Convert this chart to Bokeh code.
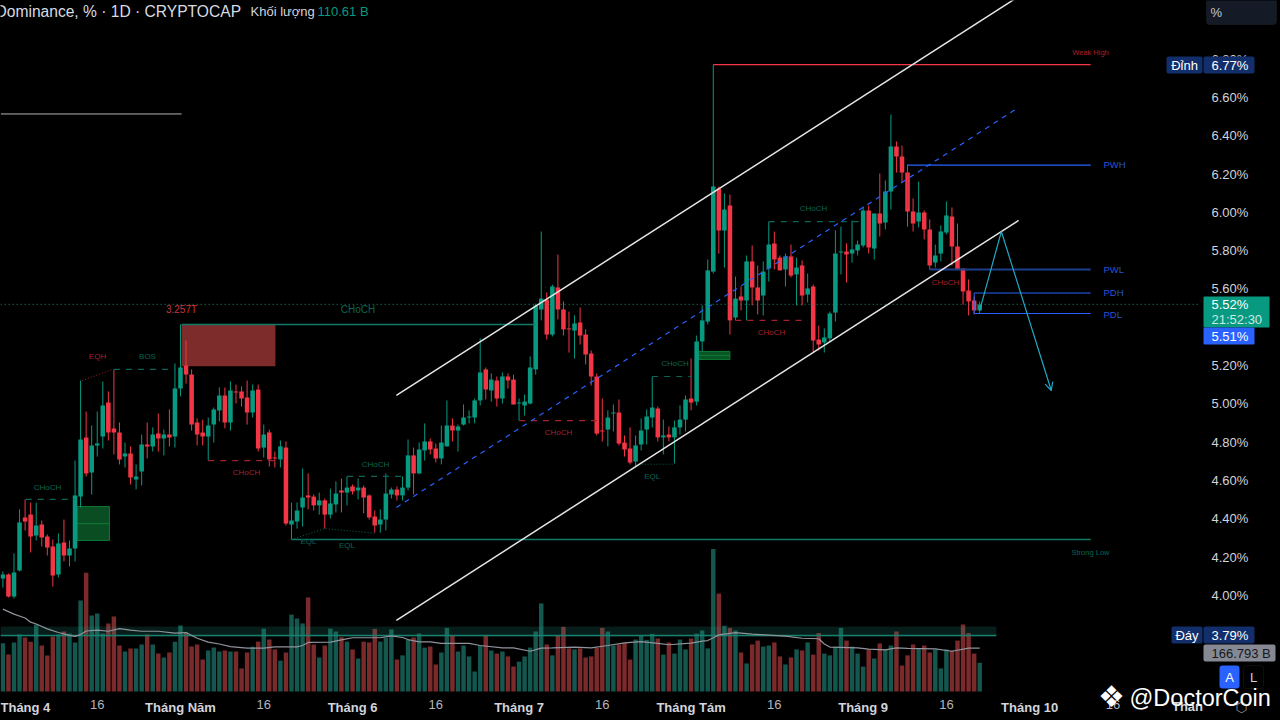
from bokeh.plotting import figure
from bokeh.models import (ColumnDataSource, Range1d, FixedTicker, PrintfTickFormatter, Label, LinearAxis,
                          BoxAnnotation, Arrow, OpenHead)
from bokeh.embed import file_html
from bokeh.resources import INLINE

# ---------- data (day 0 = 1 April) ----------
days = list(range(-2, 175))
opens = [4.088,4.109,3.994,4.130,4.407,4.422,4.313,4.370,4.308,4.255,
 4.109,4.276,4.208,4.245,4.516,4.825,4.642,4.783,4.830,5.007,
 4.872,4.851,4.725,4.741,4.605,4.647,4.788,4.778,4.845,4.819,
 4.840,4.830,5.080,5.200,5.153,4.903,4.851,4.830,4.892,4.966,
 5.044,4.903,5.065,5.065,5.033,4.955,5.075,4.772,4.851,4.720,
 4.710,4.772,4.370,4.386,4.459,4.522,4.516,4.470,4.496,4.422,
 4.475,4.548,4.537,4.569,4.548,4.563,4.522,4.412,4.370,4.396,
 4.527,4.553,4.522,4.563,4.731,4.637,4.757,4.804,4.767,4.715,
 4.778,4.887,4.861,4.892,4.929,4.929,5.018,5.180,5.070,5.122,
 5.028,5.143,5.127,5.002,4.992,5.002,5.180,5.493,5.545,5.362,
 5.608,5.493,5.394,5.383,5.425,5.362,5.263,5.143,4.861,4.866,
 4.950,4.955,4.798,4.767,4.699,4.788,4.866,4.929,4.976,4.825,
 4.840,4.825,4.877,4.918,5.028,5.012,5.326,5.430,5.691,6.125,
 5.906,6.036,5.451,5.561,5.540,5.744,5.608,5.566,5.707,5.838,
 5.764,5.702,5.770,5.676,5.723,5.571,5.613,5.336,5.321,5.342,
 5.477,5.791,5.796,5.785,5.801,5.827,6.010,5.812,5.994,5.947,
 6.109,6.344,6.292,6.208,6.005,5.953,6.000,5.911,5.738,5.785,
 5.895,5.979,5.822,5.707,5.592,5.540,5.488]
closes = [4.109,3.994,4.120,4.381,4.386,4.308,4.365,4.302,4.250,4.104,
 4.271,4.208,4.245,4.522,4.814,4.637,4.783,4.793,4.992,4.851,
 4.851,4.710,4.741,4.616,4.621,4.788,4.778,4.840,4.819,4.840,
 4.825,5.080,5.190,5.153,4.892,4.840,4.830,4.887,4.971,5.044,
 4.903,5.070,5.060,5.028,4.955,5.070,4.767,4.840,4.710,4.715,
 4.778,4.375,4.391,4.443,4.511,4.511,4.470,4.496,4.422,4.480,
 4.532,4.537,4.563,4.543,4.563,4.511,4.407,4.365,4.396,4.532,
 4.553,4.522,4.563,4.731,4.637,4.762,4.804,4.762,4.715,4.798,
 4.887,4.861,4.882,4.929,4.934,5.018,5.164,5.075,5.127,5.028,
 5.143,5.122,4.997,5.007,5.012,5.190,5.514,5.550,5.362,5.613,
 5.493,5.389,5.389,5.420,5.357,5.258,5.143,4.845,4.856,4.929,
 4.955,4.793,4.762,4.694,4.783,4.861,4.934,4.981,4.825,4.835,
 4.825,4.877,4.918,5.023,5.007,5.326,5.436,5.697,6.135,5.906,
 6.015,5.436,5.550,5.540,5.744,5.608,5.540,5.691,5.832,5.754,
 5.697,5.770,5.670,5.712,5.566,5.603,5.331,5.310,5.347,5.472,
 5.785,5.796,5.780,5.806,5.832,6.010,5.817,5.994,5.942,6.109,
 6.344,6.292,6.208,6.005,5.942,6.000,5.911,5.723,5.775,5.900,
 5.984,5.822,5.702,5.587,5.535,5.488,5.519]
highs = [4.125,4.114,4.219,4.449,4.501,4.485,4.485,4.391,4.318,4.292,
 4.323,4.396,4.287,4.704,5.122,4.960,4.887,4.960,5.117,5.065,
 5.180,4.903,4.798,4.778,4.684,4.840,4.903,4.877,4.950,4.866,
 4.971,5.211,5.415,5.331,5.180,4.924,4.918,4.929,4.981,5.086,
 5.086,5.117,5.101,5.091,5.122,5.101,5.101,4.892,4.866,4.751,
 4.809,4.804,4.485,4.485,4.663,4.637,4.527,4.537,4.506,4.558,
 4.595,4.610,4.621,4.579,4.610,4.574,4.527,4.443,4.449,4.637,
 4.563,4.569,4.621,4.814,4.772,4.798,4.898,4.819,4.793,4.887,
 5.018,4.924,4.892,4.997,4.966,5.028,5.342,5.190,5.159,5.143,
 5.164,5.159,5.153,5.028,5.049,5.248,5.524,5.900,5.582,5.623,
 5.780,5.535,5.482,5.462,5.503,5.389,5.279,5.159,5.028,4.966,
 4.997,5.023,4.835,4.877,4.835,4.924,4.971,5.143,4.986,4.918,
 4.882,4.913,4.992,5.044,5.237,5.357,5.514,5.754,6.772,6.135,
 6.099,6.093,5.665,5.613,5.775,5.827,5.723,5.744,5.952,5.900,
 5.775,5.785,5.832,5.764,5.749,5.681,5.623,5.409,5.394,5.482,
 5.906,5.926,5.838,5.958,5.853,6.031,6.036,5.994,6.203,6.167,
 6.511,6.370,6.349,6.250,6.073,6.161,6.010,5.963,5.832,5.932,
 6.057,6.026,5.942,5.707,5.650,5.561,5.535]
lows = [4.041,3.989,3.984,4.125,4.339,4.224,4.287,4.255,4.208,4.046,
 4.094,4.177,4.151,4.177,4.459,4.621,4.527,4.725,4.767,4.809,
 4.736,4.684,4.668,4.579,4.553,4.574,4.715,4.751,4.751,4.731,
 4.778,4.772,5.039,5.106,4.861,4.783,4.783,4.704,4.798,4.908,
 4.872,4.861,5.002,4.986,4.892,4.929,4.751,4.720,4.673,4.668,
 4.668,4.365,4.292,4.349,4.360,4.449,4.443,4.422,4.349,4.402,
 4.433,4.433,4.470,4.527,4.501,4.428,4.396,4.328,4.328,4.339,
 4.506,4.496,4.496,4.548,4.527,4.632,4.704,4.736,4.694,4.684,
 4.778,4.804,4.751,4.887,4.898,4.898,4.992,5.023,5.012,4.986,
 5.002,5.080,4.997,4.913,4.939,4.997,5.153,5.436,5.336,5.352,
 5.441,5.357,5.268,5.237,5.310,5.206,5.096,4.835,4.804,4.778,
 4.856,4.783,4.725,4.684,4.673,4.757,4.788,4.877,4.804,4.736,
 4.804,4.689,4.840,4.856,4.966,4.992,5.274,5.415,5.681,5.785,
 5.712,5.362,5.436,5.488,5.436,5.514,5.467,5.462,5.639,5.702,
 5.697,5.613,5.660,5.514,5.514,5.530,5.268,5.279,5.268,5.321,
 5.430,5.676,5.634,5.738,5.775,5.817,5.785,5.754,5.874,5.911,
 6.015,6.208,6.156,5.926,5.900,5.921,5.859,5.702,5.712,5.744,
 5.885,5.723,5.702,5.519,5.462,5.467,5.472]
volumes = [186,142,189,219,208,192,258,177,139,212,
 219,231,223,189,350,457,293,300,223,262,
 289,177,154,166,166,181,219,181,146,131,
 150,192,254,227,173,181,123,158,169,154,
 158,154,154,89,150,172,192,242,200,162,
 119,150,296,281,262,362,181,131,177,242,
 231,209,192,162,127,192,189,241,192,207,
 239,123,139,200,208,223,169,173,104,150,
 245,216,154,177,135,77,177,216,158,146,
 154,135,96,115,135,169,231,339,181,139,
 216,249,166,162,166,131,135,168,245,231,
 177,181,187,123,200,216,199,222,204,142,
 189,146,200,162,204,223,235,166,549,377,
 253,245,235,150,108,181,196,173,177,189,
 135,104,131,162,158,189,142,225,146,139,
 173,245,196,173,146,96,162,127,185,162,
 177,231,100,139,181,166,177,150,162,89,
 162,158,196,258,225,146,110.61]
assert len(days) == len(opens) == len(closes) == len(highs) == len(lows) == len(volumes)

ma_days = [-2,0,2,3,4,6,8,10,11,12,13,15,17,19,21,23,26,29,31,33,35,37,39,42,45,47,51,52,53,57,59,
 61,66,68,70,71,73,75,77,82,84,88,90,93,95,97,101,104,107,110,113,116,
 118,122,124,125,126,127,130,133,136,139,142,145,146,147,152,154,157,159,161,166,169,172,174]
ma_values = [317,298,283,267,260,241,227,216,212,219,233,236,232,242,236,232,232,225,227,205,190,183,173,167,167,172,172,177,189,190,199,
 207,207,214,208,200,191,191,185,185,177,168,168,155,167,168,171,168,177,187,192,185,
 180,186,194,196,207,218,227,221,217,213,205,203,183,171,168,163,160,168,166,164,155,167,166.793]

month_ticks = [0, 30, 61, 91, 122, 153, 183]
month_labels = ["Tháng 4", "Tháng Năm", "Tháng 6", "Tháng 7", "Tháng Tám", "Tháng 9", "Tháng 10"]
mid_ticks = [15, 45, 76, 106, 137, 168, 198]
mid_labels = ["16"] * 7
price_ticks = [4.0, 4.2, 4.4, 4.6, 4.8, 5.0, 5.2, 5.6, 5.8, 6.0, 6.2, 6.4, 6.6, 6.8]

channel_days = [68.9, 181.0]
channel_upper = [5.044, 7.127]
channel_mid = [4.459, 6.548]
channel_lower = [3.869, 5.958]

# (day from, day to, price)
solid_green = [(50, 194, 4.292), (30.2, 94, 5.415)]
dash_green = [(2.1, 10.9, 4.501), (18, 29, 5.180), (60, 70.8, 4.621), (115, 122, 5.143), (136, 152.5, 5.952)]
dash_red = [(35, 48, 4.704), (91, 105, 4.913), (130, 143, 5.436), (165, 170, 5.702)]
dots_green = [((50, 56, 65), (4.292, 4.349, 4.325)), ((112, 119), (4.685, 4.685))]
dots_red = [((12.3, 17.7), (5.122, 5.180))]
blue_levels = [(161, 194, 6.247, 1.2), (165, 194, 5.702, 2), (173, 194, 5.579, 1.2), (173, 194, 5.472, 1.2)]
weak_high = (126, 194, 6.772)
old_level = (-2.4, 30.2, 6.514)
last_price = (-2.4, 213.8, 5.52)
forecast_days = [174, 177.9, 186.9]
forecast_prices = [5.488, 5.900, 5.070]

GREEN, RED = "#089981", "#f23645"
DIM_GREEN, DIM_RED = "#0b6455", "#a3202f"
FONT = "Liberation Sans"

SCALE_X = 213.78   # day at the left edge of the price scale
AXIS_Y = 3.493     # price at the top edge of the time scale

p = figure(width=1280, height=720, output_backend="svg", toolbar_location=None,
           x_range=Range1d(-2.432, 228.2), y_range=Range1d(3.3467, 7.1065),
           y_axis_location="right", min_border=0,
           background_fill_color=None, border_fill_color=None, outline_line_color=None)
p.styles = {"background-color": "#000000"}
p.grid.visible = False
p.extra_y_ranges = {"vol": Range1d(-111.65, 2660.35)}

def style_axis(a, size=13, color="#d1d4dc", weight="normal"):
    a.axis_line_color = None
    a.major_tick_line_color = None
    a.minor_tick_line_color = None
    a.major_tick_out = 0
    a.major_tick_in = 0
    a.minor_tick_out = 0
    a.minor_tick_in = 0
    a.major_label_text_color = color
    a.major_label_text_font = FONT
    a.major_label_text_font_size = f"{size}px"
    a.major_label_text_font_style = weight

ax = p.yaxis[0]
ax.fixed_location = SCALE_X
ax.ticker = FixedTicker(ticks=price_ticks)
ax.formatter = PrintfTickFormatter(format="%.2f%%")
style_axis(ax)
ax.major_label_standoff = 11

bx = p.xaxis[0]
bx.fixed_location = AXIS_Y
bx.ticker = FixedTicker(ticks=month_ticks)
bx.major_label_overrides = dict(zip(month_ticks, month_labels))
style_axis(bx, weight="bold")
bx.major_label_standoff = 8

mx = LinearAxis(fixed_location=AXIS_Y, ticker=FixedTicker(ticks=mid_ticks),
                major_label_overrides=dict(zip(mid_ticks, mid_labels)))
style_axis(mx, color="#b2b5be")
mx.major_label_standoff = 8
p.add_layout(mx, "below")

src = ColumnDataSource(dict(
    d=days, o=opens, c=closes, h=highs, l=lows, v=volumes,
    bt=[max(a, b) for a, b in zip(opens, closes)],
    bb=[min(a, b) for a, b in zip(opens, closes)],
    col=[GREEN if c >= o else RED for o, c in zip(opens, closes)],
    vcol=["#14574e" if c >= o else "#7b2a2c" for o, c in zip(opens, closes)],
))

# volume pane
p.vbar(x="d", top="v", bottom=0, width=0.8, fill_color="vcol", line_color=None, source=src, y_range_name="vol")
p.quad(left=[-2.432], right=[177], bottom=[3.785], top=[3.838], fill_color="#22ab94", fill_alpha=0.17, line_color=None)
p.line([-2.432, 177], [3.79, 3.79], line_color="#18806f", line_width=1.5)
p.line(ma_days, ma_values, line_color="#8f939b", line_width=1.2, y_range_name="vol")

# zones
p.quad(left=[30.2], right=[47.1], bottom=[5.197], top=[5.415], fill_color="#7e2b2b", line_color=None)
p.quad(left=[11.4, 11.4], right=[17.2, 17.2], bottom=[4.287, 4.375], top=[4.375, 4.464],
       fill_color="#0a4d22", line_color="#0e7a34", line_width=1)
p.quad(left=[123.3, 123.3], right=[129, 129], bottom=[5.232, 5.253], top=[5.253, 5.274],
       fill_color="#0a5525", line_color="#0e7a34", line_width=1)

# candles
p.segment(x0="d", x1="d", y0="l", y1="h", line_color="col", line_width=1, source=src)
p.vbar(x="d", top="bt", bottom="bb", width=0.82, fill_color="col", line_color=None, source=src)

# structure lines
p.line(list(last_price[:2]), [last_price[2]] * 2, line_color=GREEN, line_dash=[1, 3], line_width=1)
p.line(list(old_level[:2]), [old_level[2]] * 2, line_color="#b5b5b5", line_width=1)
p.line(list(weak_high[:2]), [weak_high[2]] * 2, line_color=RED, line_width=1.2)
for a, b, y in solid_green:
    p.line([a, b], [y, y], line_color="#117a69", line_width=1.5)
for a, b, y in dash_green:
    p.line([a, b], [y, y], line_color=DIM_GREEN, line_width=1.2, line_dash=[6, 6])
for a, b, y in dash_red:
    p.line([a, b], [y, y], line_color=DIM_RED, line_width=1.2, line_dash=[6, 6])
for xs, ys in dots_green:
    p.line(list(xs), list(ys), line_color=DIM_GREEN, line_width=1, line_dash=[1, 2])
for xs, ys in dots_red:
    p.line(list(xs), list(ys), line_color=DIM_RED, line_width=1, line_dash=[1, 2])
for a, b, y, w in blue_levels:
    p.line([a, b], [y, y], line_color="#2962ff" if w < 2 else "#1c3f8e", line_width=w)
p.line([173, 173], [5.472, 5.579], line_color="#2962ff", line_width=1)
p.line([161, 161], [6.02, 6.247], line_color="#2962ff", line_width=1)

p.line(channel_days, channel_upper, line_color="#e6e6e6", line_width=1.5)
p.line(channel_days, channel_lower, line_color="#e6e6e6", line_width=1.5)
p.line(channel_days, channel_mid, line_color="#2962ff", line_width=1.2, line_dash=[5, 5])

p.line(forecast_days, forecast_prices, line_color="#22a7c4", line_width=1.2)
p.add_layout(Arrow(end=OpenHead(size=8, line_color="#22a7c4", line_width=1.2), line_color=None,
                   x_start=forecast_days[1], y_start=forecast_prices[1],
                   x_end=forecast_days[2], y_end=forecast_prices[2]))

# helpers in window pixels for the chrome
def txt(x, y, text, color, size, align="center", style="normal", font=FONT):
    p.add_layout(Label(x=x, y=y, x_units="canvas", y_units="canvas", text=text, text_color=color,
                       text_font_size=f"{size}px", text_align=align, text_baseline="middle",
                       text_font_style=style, text_font=font))

def box(l, t, r, b, color, radius=0, line=None):
    p.add_layout(BoxAnnotation(left=l, right=r, top=t, bottom=b, left_units="canvas", right_units="canvas",
                               top_units="canvas", bottom_units="canvas", fill_color=color, fill_alpha=1,
                               line_color=line, border_radius=radius))

# chart labels
for x, y, t in [(47, 487, "CHoCH"), (375, 464, "CHoCH"), (674.5, 363, "CHoCH"), (813, 208, "CHoCH"),
                (147, 356, "BOS"), (308, 541, "EQL"), (346.5, 545, "EQL"), (651.7, 476, "EQL")]:
    txt(x, y, t, DIM_GREEN, 8)
for x, y, t in [(246, 472, "CHoCH"), (558, 432, "CHoCH"), (771, 332, "CHoCH"), (945, 282, "CHoCH"), (97, 356, "EQH")]:
    txt(x, y, t, DIM_RED, 8)
txt(357.5, 309, "CHoCH", DIM_GREEN, 10)
txt(181, 309, "3.257T", "#c8363f", 10)
txt(1090, 52, "Weak High", DIM_RED, 7.5)
txt(1090, 552, "Strong Low", DIM_GREEN, 7.5)
for y, t in [(164, "PWH"), (269, "PWL"), (292, "PDH"), (314, "PDL")]:
    txt(1103, y, t, "#2355d8", 9.5, align="left")

# header
txt(-5, 11, "Dominance, % · 1D · CRYPTOCAP", "#d9dbe0", 15.6, align="left")
txt(250, 11, "Khối lượng", "#d1d4dc", 13, align="left")
txt(317, 11, "110.61 B", GREEN, 13, align="left")

# price scale widgets
box(1206, -2, 1276, 24, "#151a27", 3, "#2a2e39")
txt(1210, 12, "%", "#c5c8d0", 13, align="left")
NAVY = "#132f6b"
box(1166, 56, 1202, 73, NAVY, 2)
box(1203, 56, 1254, 73, NAVY, 2)
txt(1184, 64.5, "Đỉnh", "#ffffff", 13)
txt(1211, 64.5, "6.77%", "#ffffff", 13, align="left")
box(1203, 296, 1269, 327, "#089981", 1)
txt(1211, 304, "5.52%", "#ffffff", 13, align="left")
txt(1211, 319, "21:52:30", "#c8e9e1", 13, align="left")
box(1203, 327, 1254, 344, "#2962ff", 1)
txt(1211, 336, "5.51%", "#ffffff", 13, align="left")
box(1171, 626, 1202, 643, NAVY, 2)
box(1203, 626, 1254, 643, NAVY, 2)
txt(1186.5, 635, "Đáy", "#ffffff", 13)
txt(1211, 635, "3.79%", "#ffffff", 13, align="left")
box(1203, 644, 1275, 661, "#868993", 2)
txt(1211, 652.5, "166.793 B", "#131722", 13, align="left")
box(1219, 665, 1239, 688, "#2962ff", 3)
txt(1229, 676.5, "A", "#ffffff", 13)
box(1243, 665, 1263, 688, "#000000", 3, "#2a2e39")
txt(1253, 676.5, "L", "#d1d4dc", 13)

# bottom right
txt(1187, 706, "Thán", "#d1d4dc", 13, style="bold")
txt(1241, 706, "⬡", "#9598a1", 14, font="DejaVu Sans")
txt(1111, 696, "❖", "#ffffff", 30, font="DejaVu Sans")
txt(1129, 697, "@DoctorCoin", "#ffffff", 23.5, align="left")

open("out.html", "w").write(file_html(p, INLINE))
